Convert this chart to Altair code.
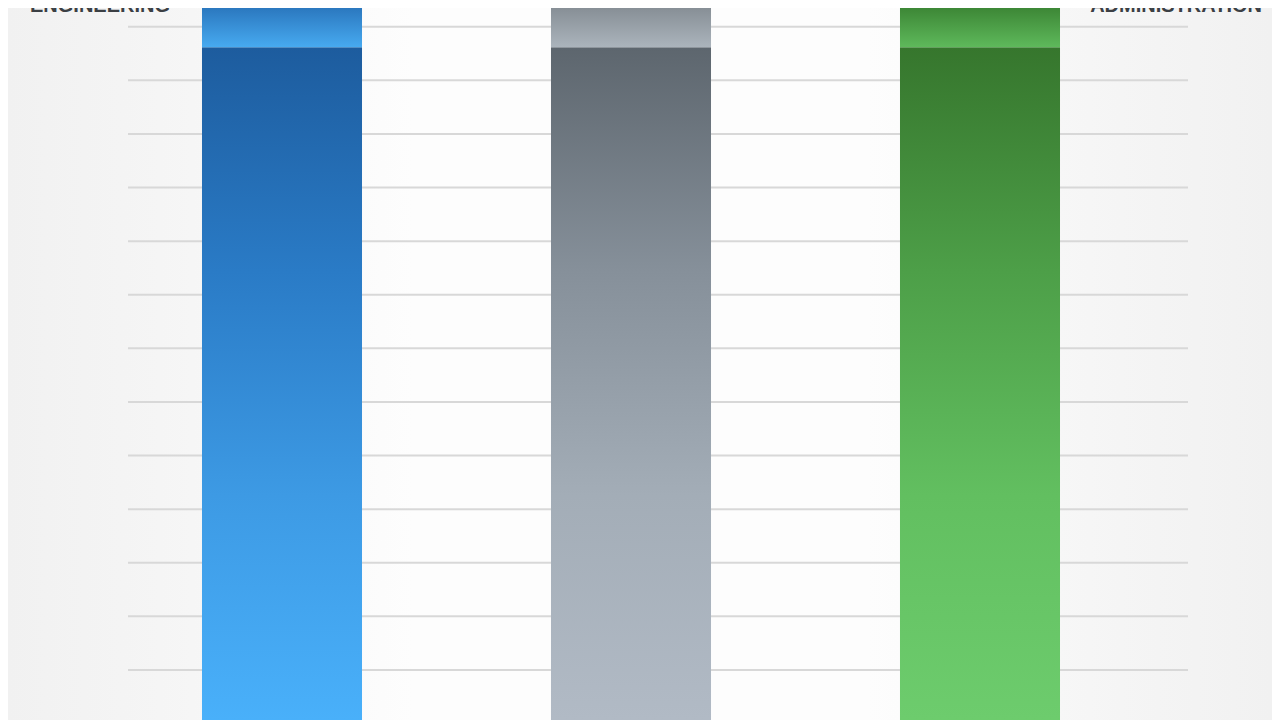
import altair as alt
import pandas as pd

# ---- data ----
departments = ["ENGINEERING", "OPERATIONS", "ADMINISTRATION"]
values = [13.35, 13.35, 13.35]          # all bars run off the top of the picture
grid_levels = [1, 2, 3, 4, 5, 6, 7, 8, 9, 10, 11, 12, 13]
header_labels = ["ENGINEERING", "ADMINISTRATION"]

# ---- styles ----
body_stops = {
    "ENGINEERING": ["#1d5c9e", "#2a7bc6", "#3d9ae4", "#49b0fa"],
    "OPERATIONS": ["#5d666e", "#86909a", "#a3adb7", "#b1bac5"],
    "ADMINISTRATION": ["#36762d", "#4d9f48", "#62bf60", "#6dcc6d"],
}
cap_stops = {
    "ENGINEERING": ["#2b78bf", "#47aaf0"],
    "OPERATIONS": ["#878f96", "#abb4bc"],
    "ADMINISTRATION": ["#3d8736", "#5eb95b"],
}
CAP = 0.73
W, H = 1264, 712
TOP = 13.35
BASE = TOP - H / 53.6   # 53.6 px per unit

bars = pd.DataFrame({"dept": departments, "value": values})
grid = pd.DataFrame({"level": grid_levels})

yscale = alt.Scale(domain=[BASE, TOP], nice=False, zero=False)
xscale = alt.Scale(domain=departments, range=[99.5, 1146.5],
                   paddingInner=0.5415, paddingOuter=0.27075)


def vgrad(colors):
    n = len(colors)
    return alt.Gradient(
        gradient="linear", x1=0, x2=0, y1=0, y2=1,
        stops=[alt.GradientStop(offset=i / (n - 1), color=c) for i, c in enumerate(colors)],
    )


background = alt.Chart(pd.DataFrame({"k": [0]})).mark_rect(
    color=alt.Gradient(
        gradient="linear", x1=0, x2=1, y1=0, y2=0,
        stops=[
            alt.GradientStop(offset=0, color="#f1f1f1"),
            alt.GradientStop(offset=0.12, color="#f5f5f5"),
            alt.GradientStop(offset=0.32, color="#fdfdfd"),
            alt.GradientStop(offset=0.68, color="#fdfdfd"),
            alt.GradientStop(offset=0.88, color="#f5f5f5"),
            alt.GradientStop(offset=1, color="#f1f1f1"),
        ],
    )
).encode(x=alt.value(0), x2=alt.value(W), y=alt.value(0), y2=alt.value(H))

gridlines = alt.Chart(grid).mark_rule(color="#d8d8d8", strokeWidth=2).encode(
    y=alt.Y("level:Q", scale=yscale, axis=None),
    x=alt.value(120), x2=alt.value(1180),
)

layers = [background, gridlines]
for d in departments:
    base = alt.Chart(bars).transform_filter(alt.datum.dept == d)
    body = base.transform_calculate(top="datum.value - %f" % CAP).mark_bar(
        color=vgrad(body_stops[d]), clip=True
    ).encode(
        x=alt.X("dept:N", scale=xscale, axis=None),
        y=alt.Y("top:Q", scale=yscale, axis=None),
        y2=alt.datum(BASE),
    )
    cap = base.transform_calculate(low="datum.value - %f" % CAP).mark_bar(
        color=vgrad(cap_stops[d]), clip=True
    ).encode(
        x=alt.X("dept:N", scale=xscale, axis=None),
        y=alt.Y("value:Q", scale=yscale, axis=None),
        y2="low:Q",
    )
    layers += [body, cap]

labels = pd.DataFrame({"label": header_labels})
left_label = alt.Chart(labels).transform_filter(alt.datum.label == header_labels[0]).mark_text(
    fontSize=20, fontWeight="bold", font="Liberation Sans", color="#3b3f44",
    align="left", baseline="alphabetic",
).encode(text="label:N", x=alt.value(22), y=alt.value(4))
right_label = alt.Chart(labels).transform_filter(alt.datum.label == header_labels[1]).mark_text(
    fontSize=20, fontWeight="bold", font="Liberation Sans", color="#3b3f44",
    align="right", baseline="alphabetic",
).encode(text="label:N", x=alt.value(1254), y=alt.value(4))
layers += [left_label, right_label]

chart = alt.layer(*layers).properties(
    width=W, height=H, autosize=alt.AutoSizeParams(type="none"), padding=0,
    background="#f3f3f3",
).configure_view(stroke=None)

chart.save("out.html", embed_options={"renderer": "svg", "actions": False})
